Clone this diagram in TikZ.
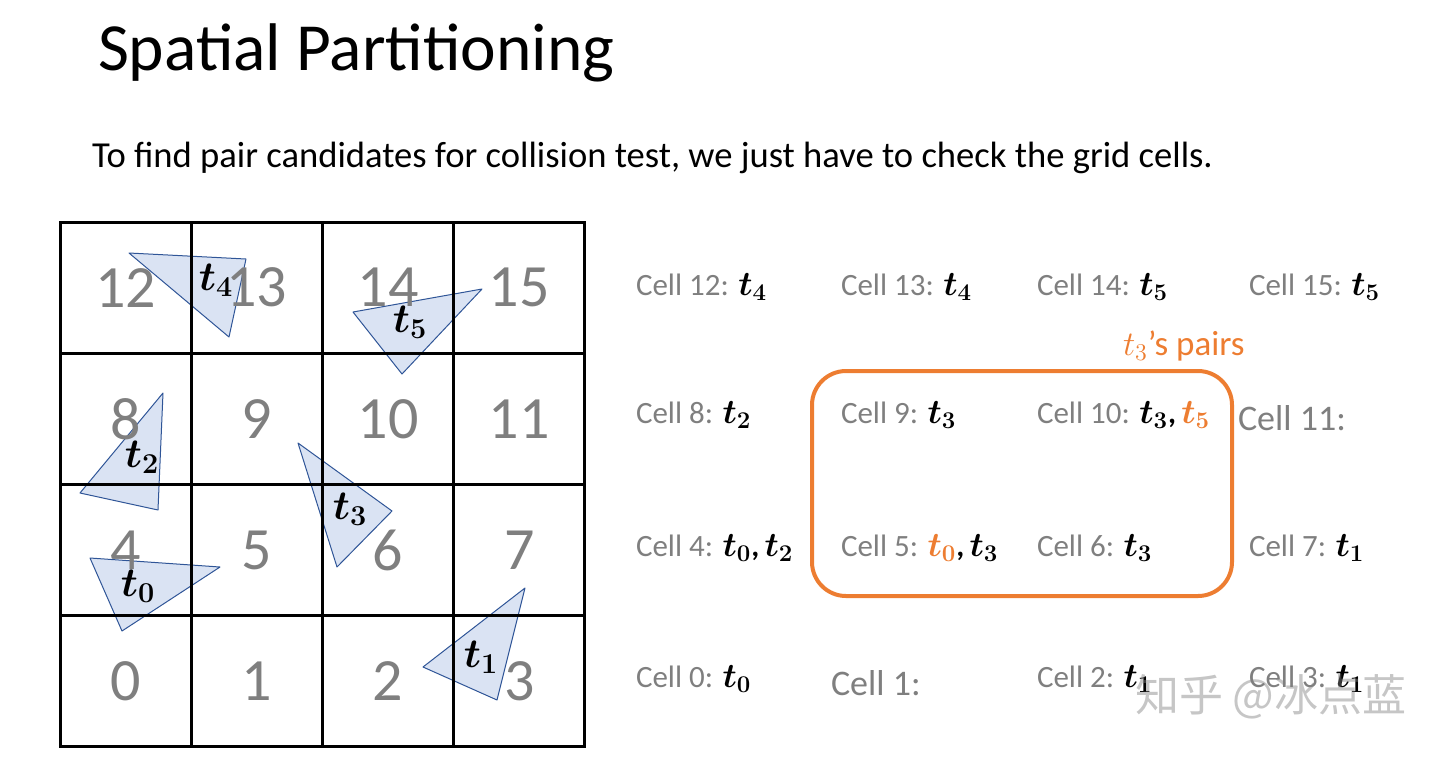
\documentclass[tikz,border=0pt]{standalone}
\usepackage{fontspec}
\setmainfont{Carlito}
\newfontfamily\cjkfont{Noto Sans CJK SC}
\usetikzlibrary{positioning}
\definecolor{pairorange}{HTML}{ED7D31}
\definecolor{trifill}{HTML}{DAE3F3}
\definecolor{triedge}{HTML}{2F5597}
\definecolor{numgray}{HTML}{7F7F7F}
% triangle name inside a cell list
\newcommand{\tri}[2][black]{{\fontsize{17.5}{17.5}\selectfont\boldmath\textcolor{#1}{$t_{#2}$}}}
\newcommand{\comma}{\textcolor{black}{\textbf{,}}\,}

\begin{document}
\begin{tikzpicture}[x=0.5pt, y=-0.5pt, node distance=0pt,
    every node/.style={inner sep=0pt, outer sep=0pt},
    cellbox/.style={draw, line width=1.5pt, minimum size=65.6pt, text=numgray, font=\fontsize{30}{30}\selectfont},
    tri/.style={draw=triedge, fill=trifill, line width=0.5pt, line join=round},
    tlabel/.style={font=\fontsize{22}{22}\selectfont\boldmath},
    celltext/.style={anchor=base west, text=numgray, font=\fontsize{15.5}{15.5}\selectfont},
    bigcell/.style={anchor=base west, text=numgray, font=\fontsize{18}{18}\selectfont}]
  \useasboundingbox (0,0) rectangle (1440,756);
  % heading
  \node[anchor=base west, font=\fontsize{33.7}{34}\selectfont] (title) at (98,70) {Spatial Partitioning};
  \node[anchor=base west, font=\fontsize{18.3}{18.3}\selectfont] (intro) at (92,167) {To find pair candidates for collision test, we just have to check the grid cells.};
  % triangles
  \draw[tri] (129,253) -- (246,259) -- (229,337) -- cycle;
  \draw[tri] (353,312) -- (482,289) -- (402,374) -- cycle;
  \draw[tri] (163,393) -- (80,493) -- (158,510) -- cycle;
  \draw[tri] (298,443) -- (392,511) -- (337,567) -- cycle;
  \draw[tri] (90,558) -- (220,567) -- (122,631) -- cycle;
  \draw[tri] (525,588) -- (423,667) -- (497,700) -- cycle;
  % grid
  \node[cellbox] (c12) at (125.6,287.6) {12};
  \node[cellbox, right=of c12] (c13) {13};
  \node[cellbox, right=of c13] (c14) {14};
  \node[cellbox, right=of c14] (c15) {15};
  \node[cellbox, below=of c12] (c8) {8};
  \node[cellbox, right=of c8] (c9) {9};
  \node[cellbox, right=of c9] (c10) {10};
  \node[cellbox, right=of c10] (c11) {11};
  \node[cellbox, below=of c8] (c4) {4};
  \node[cellbox, right=of c4] (c5) {5};
  \node[cellbox, right=of c5] (c6) {6};
  \node[cellbox, right=of c6] (c7) {7};
  \node[cellbox, below=of c4] (c0) {0};
  \node[cellbox, right=of c0] (c1) {1};
  \node[cellbox, right=of c1] (c2) {2};
  \node[cellbox, right=of c2] (c3) {3};
  % triangle names
  \node[tlabel] (t4) at (216,280) {$t_4$};
  \node[tlabel] (t5) at (410,322) {$t_5$};
  \node[tlabel] (t2) at (142,457) {$t_2$};
  \node[tlabel] (t3) at (350,509) {$t_3$};
  \node[tlabel] (t0) at (138,586) {$t_0$};
  \node[tlabel] (t1) at (481,657) {$t_1$};
  % cell lists
  \node[celltext] (l12) at (636,295) {Cell 12: \tri{4}};
  \node[celltext] (l13) at (841,295) {Cell 13: \tri{4}};
  \node[celltext] (l14) at (1037,295) {Cell 14: \tri{5}};
  \node[celltext] (l15) at (1249,295) {Cell 15: \tri{5}};
  \node[celltext] (l8) at (636,423) {Cell 8: \tri{2}};
  \node[celltext] (l9) at (841,423) {Cell 9: \tri{3}};
  \node[celltext] (l10) at (1037,423) {Cell 10: \tri{3}\comma\tri[pairorange]{5}};
  \node[bigcell] (l11) at (1238,430) {Cell 11:};
  \node[celltext] (l4) at (636,556) {Cell 4: \tri{0}\comma\tri{2}};
  \node[celltext] (l5) at (841,556) {Cell 5: \tri[pairorange]{0}\comma\tri{3}};
  \node[celltext] (l6) at (1037,556) {Cell 6: \tri{3}};
  \node[celltext] (l7) at (1249,556) {Cell 7: \tri{1}};
  \node[celltext] (l0) at (636,687) {Cell 0: \tri{0}};
  \node[bigcell] (l1) at (831,695) {Cell 1:};
  \node[celltext] (l2) at (1037,687) {Cell 2: \tri{1}};
  \node[celltext] (l3) at (1249,687) {Cell 3: \tri{1}};
  % t3 neighbourhood
  \node[draw=pairorange, line width=2pt, rounded corners=17pt, minimum width=210pt, minimum height=112.5pt] (pairbox) at (1022,483.5) {};
  \node[anchor=base west, text=pairorange, font=\fontsize{17.5}{17.5}\selectfont] (pairs) at (1123,355) {$t_3$'s pairs};
  \node[anchor=west, text=gray, opacity=0.45, font=\cjkfont\fontsize{22}{22}\selectfont] (mark) at (1135,697) {知乎 @冰点蓝};
\end{tikzpicture}
\end{document}
